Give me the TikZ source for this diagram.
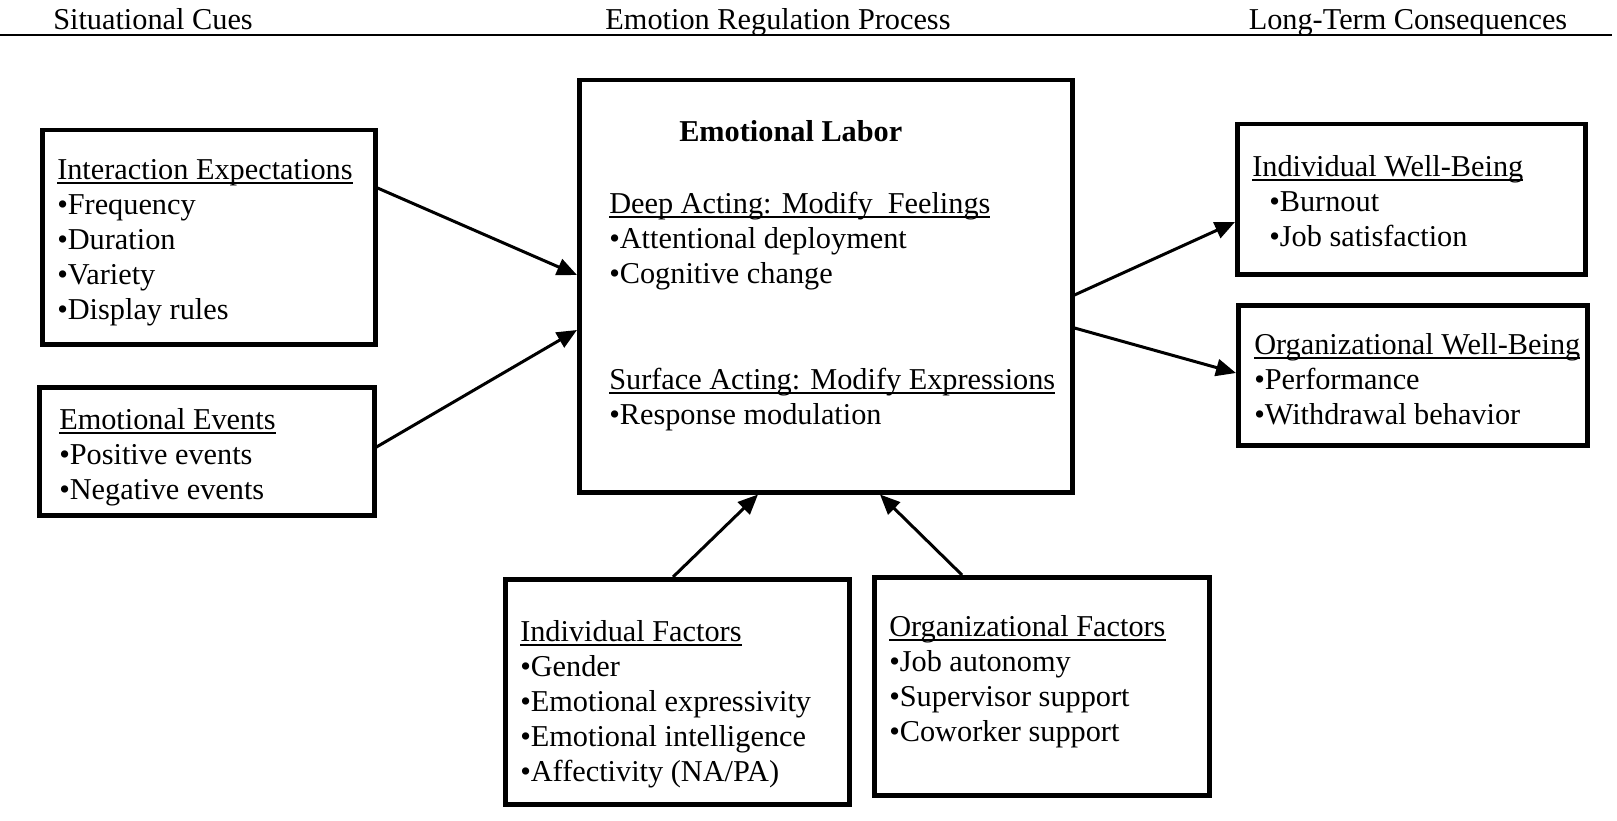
\documentclass[tikz,border=0pt]{standalone}
\usepackage{fontspec}
\setmainfont{Liberation Serif}
\usetikzlibrary{calc,arrows.meta}

\newsavebox{\ulbox}
\newcommand{\ulh}[1]{\sbox{\ulbox}{#1}\rlap{\rule[-5pt]{\wd\ulbox}{1.8pt}}\usebox{\ulbox}}
% height, width, left pad, first baseline, text
\newcommand{\elcontent}[5]{\begin{minipage}[t][#1][t]{#2}\leftskip=#3\relax\rule{0pt}{#4}#5\end{minipage}}

\tikzset{
  elbox/.style={draw, rectangle, line width=4.5pt, anchor=north west, inner sep=0pt},
  elarrow/.style={line width=3pt, -{Triangle[length=20pt,width=17pt]}},
  head/.style={anchor=base, inner sep=0pt}
}

\begin{document}
\begin{tikzpicture}[x=1pt,y=-1pt,font=\fontsize{30.3}{35}\selectfont]

\useasboundingbox (0,0) rectangle (1617,821);

% column titles
\node[head] (hcues) at (153,30) {Situational Cues};
\node[head] (hproc) at (778,30) {Emotion Regulation Process};
\node[head] (hcons) at (1408,30) {Long-Term Consequences};
\draw[line width=2pt] (0,35) -- (1612,35);

% situational cues
\node[elbox] (ie) at (40,128) {\elcontent{214pt}{333pt}{15pt}{49pt}{\ulh{Interaction Expectations}\\
  \textbullet Frequency\\ \textbullet Duration\\ \textbullet Variety\\ \textbullet Display rules}};
\node[elbox] (ee) at (37,385) {\elcontent{128pt}{335pt}{20pt}{42pt}{\ulh{Emotional Events}\\
  \textbullet Positive events\\ \textbullet Negative events}};

% emotional labor
\node[elbox] (el) at (577,78) {\elcontent{412pt}{493pt}{30pt}{61pt}{\hspace*{70pt}\textbf{Emotional Labor}\\[37pt]
  \ulh{Deep Acting: Modify\ \ Feelings}\\ \textbullet Attentional deployment\\ \textbullet Cognitive change\\[71pt]
  \ulh{Surface Acting: Modify Expressions}\\ \textbullet Response modulation}};

% consequences
\node[elbox] (iwb) at (1235,122) {\elcontent{150pt}{348pt}{15pt}{52pt}{\ulh{Individual Well-Being}\\
  \hspace*{17pt}\textbullet Burnout\\ \hspace*{17pt}\textbullet Job satisfaction}};
\node[elbox] (owb) at (1236,303) {\elcontent{140pt}{349pt}{16pt}{49pt}{\ulh{Organizational Well-Being}\\
  \textbullet Performance\\ \textbullet Withdrawal behavior}};

% factors
\node[elbox] (indf) at (503,577) {\elcontent{225pt}{344pt}{15pt}{62pt}{\ulh{Individual Factors}\\
  \textbullet Gender\\ \textbullet Emotional expressivity\\ \textbullet Emotional intelligence\\ \textbullet Affectivity (NA/PA)}};
\node[elbox] (orgf) at (872,575) {\elcontent{218pt}{335pt}{15pt}{59pt}{\ulh{Organizational Factors}\\
  \textbullet Job autonomy\\ \textbullet Supervisor support\\ \textbullet Coworker support}};

% arrows
\draw[elarrow] ($(ie.north east)+(0,60)$) -- ($(el.north west)+(0,197)$);
\draw[elarrow] ($(ee.north east)+(0,62)$) -- ($(el.north west)+(0,252)$);
\draw[elarrow] ($(el.north east)+(0,217)$) -- ($(iwb.north west)+(0,100)$);
\draw[elarrow] ($(el.north east)+(0,250)$) -- ($(owb.north west)+(0,70)$);
\draw[elarrow] ($(indf.north west)+(170,0)$) -- ($(el.south west)+(181,0)$);
\draw[elarrow] ($(orgf.north west)+(90,0)$) -- ($(el.south west)+(303,0)$);

\end{tikzpicture}
\end{document}
